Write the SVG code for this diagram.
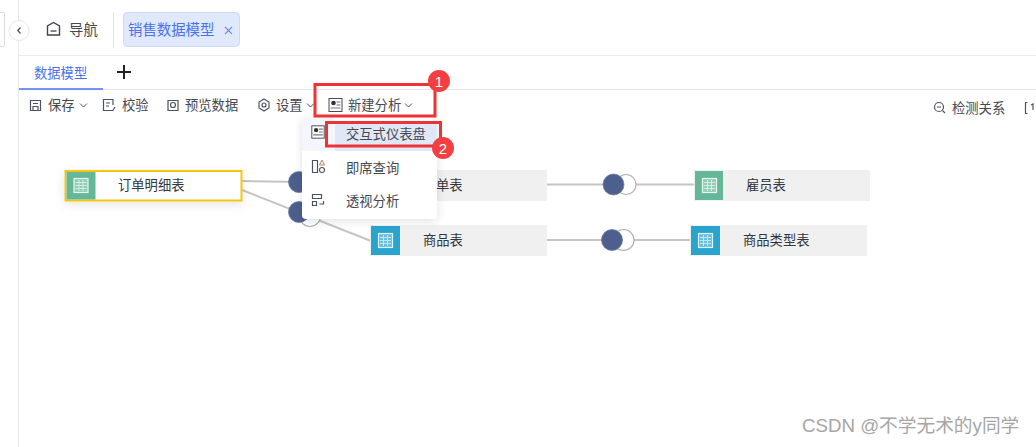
<svg xmlns="http://www.w3.org/2000/svg" width="1036" height="447" viewBox="0 0 1036 447">
<defs>
<filter id="sh" x="-20%" y="-20%" width="140%" height="150%"><feDropShadow dx="0" dy="2" stdDeviation="5" flood-color="#000" flood-opacity="0.12"/></filter>
<filter id="sh2" x="-10%" y="-40%" width="120%" height="200%"><feDropShadow dx="0" dy="3" stdDeviation="5" flood-color="#000" flood-opacity="0.10"/></filter>
<g id="grid"><rect x="-7" y="-7" width="14" height="14" fill="#fff" opacity=".3"/><rect x="-7" y="-7" width="14" height="14" fill="none" stroke="#fff" stroke-width="1.200" opacity=".85"/><path d="M-5.500-3H5.500M-5.500 0H5.500M-5.500 3H5.500M-2-5.500V5.500M2-5.500V5.500" stroke="#fff" stroke-width="1" opacity=".6"/></g>
<g id="rep"><rect x="-6.500" y="-6.500" width="13" height="13" fill="#fff" stroke="#4a4a55" stroke-width="1"/><circle cx="-2" cy="-2" r="2.300" fill="#333"/><path d="M1-3H5M1 0H5M-5 3H5" stroke="#777" stroke-width="1.200"/></g>
</defs>
<style>
text{font-family:"Noto Sans CJK SC","Noto Sans",sans-serif;font-size:13.300px;fill:#45484f}
.dk{fill:#33363c}
.ic{fill:none;stroke:#4c5360;stroke-width:1.200}
.conn{fill:none;stroke:#c4c4c4;stroke-width:2}
.dot{fill:#4c5f8d;stroke:#6f7d9f;stroke-width:.8}
.ring{fill:#fff;stroke:#b0b0b0;stroke-width:1.200}
.body{fill:#f0f0f0}
.red{fill:none;stroke:#ee3336;stroke-width:3}
.badge{fill:#f33f42}
.num{fill:#fff;font-family:"Liberation Sans",sans-serif;font-size:15px;text-anchor:middle}
.chev{fill:none;stroke:#555;stroke-width:1}
.big{font-size:14.400px}
</style>

<g id="chrome">
<rect width="1036" height="447" fill="#fff"/>
<path d="M18.500 0V447" stroke="#e6e8ec"/>
<path d="M0 12.500H3Q4.500 12.500 4.500 14V45Q4.500 46.500 3 46.500H0" fill="none" stroke="#d8dbe0"/>
<circle cx="19" cy="30.500" r="10" fill="#fff" stroke="#e6e8ec"/>
<path d="M20.500 27.500L17.800 30.500L20.500 33.500" fill="none" stroke="#555" stroke-width="1.300"/>
<path d="M47.500 35V26L53.500 22.500L59.500 26V35Z" fill="none" stroke="#3f4650" stroke-width="1.400"/><path d="M50.500 31H56.500" stroke="#3f4650" stroke-width="1.300"/>
<text x="69" y="35" class="big">导航</text>
<path d="M113.500 12V48" stroke="#dfe2e8"/>
<rect x="123.500" y="12.500" width="116" height="34" rx="4" fill="#e0e8fb" stroke="#ccd8f5"/>
<text x="128" y="35" class="big" style="fill:#4a72ee">销售数据模型</text>
<path d="M225 27L232 34M232 27L225 34" stroke="#6f8ee8" stroke-width="1.100"/>
<path d="M19 55.500H1036" stroke="#e8eaee"/>
<text x="34" y="78" style="fill:#4a72ee">数据模型</text>
<path d="M117 72H131M124 65V79" stroke="#222" stroke-width="2"/>
<path d="M19 89.500H1036" stroke="#e4e6ea"/>
<path d="M19 89H103" stroke="#4a72ee" stroke-width="1.500"/>
</g>

<g id="toolbar">
<path class="ic" d="M30.500 100.500H40.500V110.500H30.500ZM33 103.500H38M33 110V106.500H38V110"/>
<text x="48" y="110">保存</text><path class="chev" d="M80 103.500L83.500 107L87 103.500"/>
<path class="ic" d="M113 110.500H103.500V99.500H113V105M106 103H110M106 106H109M112.500 111L115 107"/>
<text x="122" y="110">校验</text>
<path class="ic" d="M168 100.500H178V110.500H168Z"/><circle class="ic" cx="173" cy="105" r="2.500"/>
<text x="185" y="110">预览数据</text>
<circle class="ic" cx="264" cy="105" r="2"/><path class="ic" d="M264 99L269 102V108L264 111L259 108V102Z"/>
<text x="276" y="110">设置</text><path class="chev" d="M307 103.500L310.500 107L314 103.500"/>
<use href="#rep" transform="translate(335.500 105)"/>
<text x="348" y="110">新建分析</text><path class="chev" d="M405 103.500L408.500 107L412 103.500"/>
<circle class="ic" cx="939" cy="107" r="4.500"/><path class="ic" d="M942.500 110.500L945 113M937 107H941"/>
<text x="952" y="112.500">检测关系</text>
<path class="ic" d="M1027.500 102.500H1025.500V113.500H1027.500M1031 105L1033 104V110"/>
</g>

<g id="connectors">
<path class="conn" d="M242 181L298 182"/>
<path class="conn" d="M242 190L371 241"/>
<path class="conn" d="M547 184.500H695"/>
<path class="conn" d="M547 240H691"/>
<circle class="ring" cx="310" cy="183" r="10"/><circle class="dot" cx="299" cy="182" r="10.500"/>
<circle class="ring" cx="310" cy="216" r="10.500"/><circle class="dot" cx="299" cy="212" r="10.500"/>
<circle class="ring" cx="626" cy="184.500" r="10"/><circle class="dot" cx="613.500" cy="184.500" r="10.500"/>
<circle class="ring" cx="623.500" cy="240" r="10.500"/><circle class="dot" cx="612" cy="240" r="10.500"/>
</g>

<g id="node-orders">
<rect x="65.500" y="171" width="176" height="29.500" fill="#fff" stroke="#f5c60f" stroke-width="2" filter="url(#sh2)"/>
<rect x="66.500" y="172" width="29" height="27.500" fill="#64b897"/>
<use href="#grid" transform="translate(81 185.500)"/>
<text x="118" y="190" class="dk">订单明细表</text>
</g>
<g id="node-order">
<rect class="body" x="371" y="170" width="176" height="31"/>
<text x="436" y="190" class="dk">单表</text>
</g>
<g id="node-product">
<rect class="body" x="370" y="225" width="177" height="31"/>
<rect x="371" y="226" width="29" height="29" fill="#29a4cc"/>
<use href="#grid" transform="translate(385.500 240.500)"/>
<text x="423" y="245" class="dk">商品表</text>
</g>
<g id="node-employee">
<rect class="body" x="694" y="170" width="176" height="31"/>
<rect x="695" y="171" width="28" height="29" fill="#64b897"/>
<use href="#grid" transform="translate(709.500 185.500)"/>
<text x="746" y="190" class="dk">雇员表</text>
</g>
<g id="node-category">
<rect class="body" x="690" y="225" width="177" height="31"/>
<rect x="691" y="226" width="29" height="29" fill="#29a4cc"/>
<use href="#grid" transform="translate(705.500 240.500)"/>
<text x="743" y="245" class="dk">商品类型表</text>
</g>

<g id="menu">
<rect x="302" y="118" width="135" height="101" rx="4" fill="#fff" filter="url(#sh)"/>
<path d="M302 122Q302 118 306 118H335V151H302Z" fill="#f3f6fb"/>
<rect x="335" y="122" width="102" height="29" fill="#e0e8f8"/>
<use href="#rep" transform="translate(318 132) scale(.95)"/>
<text x="346" y="139">交互式仪表盘</text>
<path d="M312.500 160.500H317.500V172.500H312.500Z" fill="none" stroke="#4c5360" stroke-width="1.200"/><path d="M322 160L319.500 165H324.500Z" fill="none" stroke="#b9845a"/><circle cx="322" cy="170" r="2.500" fill="none" stroke="#4c5360" stroke-width="1.100"/>
<text x="346" y="172.500">即席查询</text>
<path class="ic" d="M312.500 194.500H321.500V198.500H312.500ZM312.500 201.500H316.500V205.500H312.500ZM319.500 204H323.500V201"/>
<text x="346" y="205.500">透视分析</text>
</g>

<g id="callouts">
<rect class="red" x="315" y="84.500" width="120" height="31.500"/>
<rect class="red" x="326.500" y="122.500" width="114" height="23.500"/>
<circle class="badge" cx="439" cy="81" r="11"/><text class="num" x="439" y="86.500">1</text>
<circle class="badge" cx="443" cy="148" r="11"/><text class="num" x="443" y="153.500">2</text>
</g>

<text x="802" y="432" style="fill:#a6a6a6;font-size:18.700px;font-family:'Liberation Sans','Noto Sans CJK SC',sans-serif">CSDN @不学无术的y同学</text>
</svg>
